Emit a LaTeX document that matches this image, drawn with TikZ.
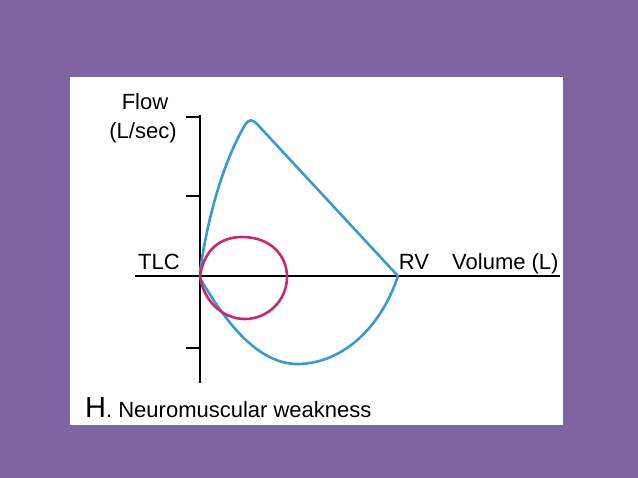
\documentclass[tikz,border=0pt]{standalone}
\usepackage{fontspec}
\setmainfont{Liberation Sans}
\definecolor{bg}{HTML}{8064A2}
\definecolor{flowblue}{HTML}{3A9AC8}
\definecolor{pinkc}{HTML}{C8286E}
\begin{document}
\begin{tikzpicture}[x=1pt,y=-1pt,
  lbl/.style={inner sep=0pt,font=\fontsize{22}{25}\selectfont},
  curve/.style={line width=2.6pt,line join=round}]
\useasboundingbox (0,0) rectangle (638,478);
\fill[bg] (0,0) rectangle (638,478);
\fill[white] (70,77) rectangle (563,425);
% axes
\draw[line width=1.8pt] (200,115) -- (200,383);
\draw[line width=1.8pt] (135,276) -- (560,276);
\foreach \y in {117,196,348} \draw[line width=1.8pt] (186,\y) -- (200,\y);
% blue loop
\draw[curve,flowblue] (200,272) .. controls (210,200) and (230,150) .. (245,125)
  .. controls (249,119) and (252,119) .. (257,124) -- (398,276)
  .. controls (380,330) and (340,365) .. (295,364)
  .. controls (260,362) and (230,330) .. (200,278);
% pink loop
\draw[curve,pinkc] (200,276) .. controls (205,245) and (225,237) .. (242,237)
  .. controls (270,237) and (287,255) .. (287,277)
  .. controls (287,300) and (268,319) .. (245,319)
  .. controls (222,319) and (203,300) .. (200,276);
% texts
\node[lbl,anchor=base] (flow) at (145,110) {Flow};
\node[lbl,anchor=base] (units) at (143,139) {(L/sec)};
\node[lbl,anchor=base] (tlc) at (159,270) {TLC};
\node[lbl,anchor=base] (rv) at (414,270) {RV};
\node[lbl,anchor=base west] (vol) at (452,270) {Volume (L)};
\node[lbl,anchor=base west] (cap) at (85,418) {{\fontsize{29}{30}\selectfont H}. Neuromuscular weakness};
\end{tikzpicture}
\end{document}
